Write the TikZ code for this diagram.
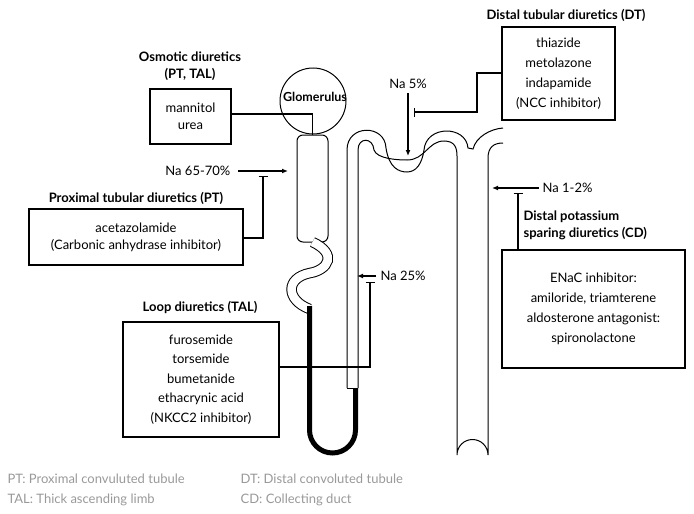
\documentclass[tikz,border=0pt]{standalone}
\usepackage{fontspec}
\setmainfont{Lato}
\usetikzlibrary{arrows.meta}
\begin{document}
\begin{tikzpicture}[x=1pt,y=-1pt,line width=1.2pt,
  box/.style={draw,line width=1.4pt,align=center,inner sep=0pt},
  t/.style={font=\fontsize{13}{17}\selectfont,align=center,inner sep=0pt},
  tb/.style={font=\fontsize{13}{17}\selectfont\bfseries,align=center,inner sep=0pt},
  lg/.style={font=\fontsize{13}{17}\selectfont,text=gray!80,anchor=west,inner sep=0pt},
  arr/.style={-{Latex[length=6pt,width=5pt]},line width=1.2pt},
  inh/.style={-{Bar[width=9pt]},line width=1.2pt}]
\useasboundingbox (0,0) rectangle (694,514);
% glomerulus and proximal tube
\node[draw,circle,minimum size=66pt,inner sep=0pt,line width=1pt] (glom) at (313,101) {};
\node[t,font=\fontsize{12.5}{14}\selectfont\bfseries] (glt) at (315,97) {Glomerulus};
\node[draw,rounded corners=6pt,minimum width=31pt,minimum height=107pt,line width=1pt] (pct) at (312.5,188.5) {};
% S-curve
\draw[line width=1pt,double=white,double distance=8.5pt] (312.5,242) .. controls (338,254) and (328,270) .. (310,273) .. controls (285,278) and (286,300) .. (309.5,309);
% thick black loop
\draw[line width=5pt] (309.5,306) -- (309.5,430) arc[start angle=180,end angle=0,radius=23] -- (355.5,388);
% ascending thin + DCT lines
\draw[line width=1pt] (347,388) -- (358,388);
\draw[line width=1pt] (347,388) -- (347,150) .. controls (347,124) and (385,124) .. (386,148)
  .. controls (389,168) and (399,172) .. (407,172) .. controls (416,172) and (422,164) .. (424,150)
  .. controls (426,125) and (466,125) .. (468,148) -- (473,149) .. controls (476,137) and (490,129) .. (503,128);
\draw[line width=1pt] (358,388) -- (358,150) .. controls (358,137) and (373,137) .. (374,150)
  .. controls (377,159) and (398,160) .. (407,160) .. controls (425,160) and (428,141) .. (444,141)
  .. controls (455,141) and (457,148) .. (457,156) -- (457,455) arc[start angle=180,end angle=360,radius=15.5]
  -- (488,158) .. controls (488,147) and (494,143) .. (503,143);
% osmotic
\node[tb] (ost) at (190,66) {Osmotic diuretics\\(PT, TAL)};
\node[box,minimum width=81pt,minimum height=55pt,t] (os) at (190.5,116.5) {mannitol\\urea};
\draw (os.east |- 0,114) -| (pct.north);
% proximal
\node[t,anchor=east] (na1) at (231,171) {Na 65-70\%};
\node (a1) at (288,171) {};
\draw[arr] (238,171) -- (a1.center);
\node[tb] (ptt) at (136,198) {Proximal tubular diuretics (PT)};
\node[box,minimum width=214pt,minimum height=56pt,t] (pt) at (136,237) {acetazolamide\\(Carbonic anhydrase inhibitor)};
\coordinate (b1) at (263,176);
\draw[inh] (pt.east |- 0,238) -| (b1);
% loop
\node[tb] (lpt) at (200,307) {Loop diuretics (TAL)};
\node[box,minimum width=156pt,minimum height=115pt,t,font=\fontsize{13}{19.5}\selectfont] (lp) at (201,379.5) {furosemide\\torsemide\\bumetanide\\ethacrynic acid\\(NKCC2 inhibitor)};
\node[t,anchor=west] (na2) at (380,276) {Na 25\%};
\coordinate (a2) at (357,276);
\draw[arr] (376,276) -- (a2);
\coordinate (b2) at (370,282);
\draw[inh] (lp.east |- 0,367) -| (b2);
% distal
\node[tb] (dtt) at (566,15) {Distal tubular diuretics (DT)};
\node[box,minimum width=113pt,minimum height=93pt,t,font=\fontsize{13}{20}\selectfont] (dt) at (558.5,73.5) {thiazide\\metolazone\\indapamide\\(NCC inhibitor)};
\node[t] (na3) at (408,84) {Na 5\%};
\coordinate (a3) at (408,156);
\draw[arr] (408,93) -- (a3);
\coordinate (b3) at (414,112);
\draw[inh] (dt.west |- 0,73) -| (477,112) -- (b3);
% collecting duct
\node[t,anchor=west] (na4) at (542,188) {Na 1-2\%};
\coordinate (a4) at (492,188);
\draw[arr] (539,188) -- (a4);
\node[tb,align=left,anchor=west] (cdt) at (523,225) {Distal potassium\\sparing diuretics (CD)};
\node[box,minimum width=183pt,minimum height=118pt,t,font=\fontsize{13}{20}\selectfont] (cd) at (593.5,309) {ENaC inhibitor:\\amiloride, triamterene\\aldosterone antagonist:\\spironolactone};
\coordinate (b4) at (518,193);
\draw[inh] (518,250) -- (b4);
% legend
\node[lg] (l1) at (7,479) {PT: Proximal convuluted tubule};
\node[lg] (l2) at (7,500) {TAL: Thick ascending limb};
\node[lg] (l3) at (240,479) {DT: Distal convoluted tubule};
\node[lg] (l4) at (240,500) {CD: Collecting duct};
\end{tikzpicture}
\end{document}
